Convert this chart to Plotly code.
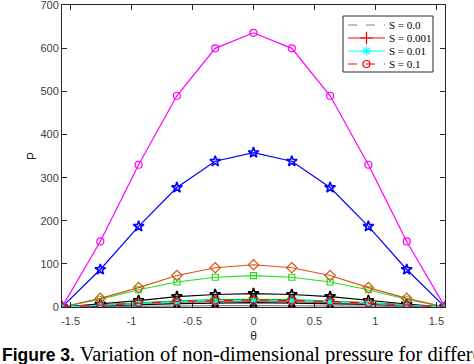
import numpy as np
import plotly.graph_objects as go

theta = [-1.5708, -1.2566, -0.9425, -0.6283, -0.3142, 0.0, 0.3142, 0.6283, 0.9425, 1.2566, 1.5708]

p_magenta = [0, 152, 330, 490, 600, 636, 600, 490, 330, 152, 0]
p_blue = [0, 87, 187, 277, 338, 358, 338, 277, 187, 87, 0]
p_orange = [0, 20, 45, 73, 91, 98, 91, 73, 45, 20, 0]
p_green = [0, 18, 40, 58, 69, 73, 69, 58, 40, 18, 0]
p_black_hi = [0, 7, 15, 24, 29, 31, 29, 24, 15, 7, 0]
p_green_star = [0, 5, 10, 14, 17, 18, 17, 14, 10, 5, 0]
p_s00 = [0, 4, 9, 12, 14, 15, 14, 12, 9, 4, 0]
p_s0001 = [0, 4, 8, 11, 13, 14, 13, 11, 8, 4, 0]
p_s001 = [0, 4, 9, 12, 15, 15, 15, 12, 9, 4, 0]
p_s01 = [0, 4, 9, 13, 15, 16, 15, 13, 9, 4, 0]
p_black_lo = [0, 3, 6, 8, 9, 10, 9, 8, 6, 3, 0]
p_gray = [0, 1, 2, 3, 3, 3, 3, 3, 2, 1, 0]

legend_names = ["S = 0.0", "S = 0.001", "S = 0.01", "S = 0.1"]

xticks = [-1.5, -1, -0.5, 0, 0.5, 1, 1.5]
xticklabels = ["-1.5", "-1", "-0.5", "0", "0.5", "1", "1.5"]
yticks = [0, 100, 200, 300, 400, 500, 600, 700]

W, H = 474, 364
ML, MR, MT, MB = 62, 29, 5, 57
PW, PH = W - ML - MR, H - MT - MB

def px2paper(px, py):
    return (px - ML) / PW, (H - MB - py) / PH

fig = go.Figure()

def add(y, color, symbol=None, dash="solid", msize=8, mlw=1.2, lw=1.2):
    mode = "lines+markers" if symbol else "lines"
    fig.add_trace(go.Scatter(
        x=theta, y=y, mode=mode, showlegend=False,
        line=dict(color=color, width=lw, dash=dash),
        marker=dict(symbol=symbol, size=msize, color=color, line=dict(color=color, width=mlw)) if symbol else None,
    ))

add(p_gray, "#808080")
add(p_black_lo, "#000000", "star-open", msize=8, mlw=1.6)
add(p_green_star, "#00cc00", "star-open", msize=7, mlw=1.4)
add(p_black_hi, "#000000", "star-open", msize=8, mlw=1.6)
add(p_green, "#22dd22", "square-open", msize=6)
add(p_orange, "#D95319", "diamond-open", msize=8)
add(p_blue, "#0000FF", "star-open", msize=8, mlw=1.6)
add(p_magenta, "#FF00FF", "circle-open", msize=7)

leg_styles = [
    dict(color="#4a8fd0", dash="dash", symbol=None, msize=0),
    dict(color="#FF0000", dash="solid", symbol="cross-thin-open", msize=9),
    dict(color="#00FFFF", dash="solid", symbol="asterisk-open", msize=8),
    dict(color="#FF0000", dash="dash", symbol="circle-open", msize=7),
]
leg_series = [p_s00, p_s0001, p_s001, p_s01]
for ys, st in zip(leg_series, leg_styles):
    add(ys, st["color"], st["symbol"], dash=st["dash"], msize=st["msize"] or 6)

# manual compact legend (MATLAB style box)
bx0, by0 = px2paper(343, 16)
bx1, by1 = px2paper(433, 72)
fig.add_shape(type="rect", xref="paper", yref="paper", x0=bx0, y0=by1, x1=bx1, y1=by0,
              line=dict(color="#262626", width=1), fillcolor="white", layer="below")
row_py = [25, 38, 51, 64]
for name, st, py in zip(legend_names, leg_styles, row_py):
    lx0, ly = px2paper(348, py)
    lx1, _ = px2paper(385, py)
    mx, _ = px2paper(366.5, py)
    tx, _ = px2paper(387, py)
    fig.add_shape(type="line", xref="paper", yref="paper", x0=lx0, y0=ly, x1=lx1, y1=ly,
                  line=dict(color=st["color"], width=1.2, dash=st["dash"]), layer="above")
    if st["symbol"]:
        fig.add_trace(go.Scatter(x=[mx], y=[ly], xaxis="x2", yaxis="y2", mode="markers",
                                 showlegend=False, hoverinfo="skip",
                                 marker=dict(symbol=st["symbol"], size=st["msize"], color=st["color"],
                                             line=dict(color=st["color"], width=1.2))))
    fig.add_annotation(xref="paper", yref="paper", x=tx, y=ly, xanchor="left", yanchor="middle",
                       showarrow=False, text=name,
                       font=dict(family="Liberation Serif, Times New Roman", size=11, color="#000000"))

axis_common = dict(
    showgrid=False, zeroline=False, showline=True, linecolor="#262626", linewidth=1,
    mirror="ticks", ticks="inside", ticklen=5, tickcolor="#262626",
    tickfont=dict(family="Liberation Sans, Arial", size=11, color="#404040"),
    automargin=False,
)

fig.update_layout(
    width=W, height=H,
    margin=dict(l=ML, r=MR, t=MT, b=MB),
    plot_bgcolor="white", paper_bgcolor="white",
    showlegend=False,
    xaxis=dict(range=[-1.5708, 1.5708], tickvals=xticks, ticktext=xticklabels, ticklabelstandoff=4,
               title=dict(text="θ", font=dict(family="Liberation Sans, Arial", size=12, color="#262626"), standoff=5),
               **axis_common),
    yaxis=dict(range=[0, 700.5], tickvals=yticks, ticklabeloverflow="allow",
               title=dict(text="P", font=dict(family="Liberation Sans, Arial", size=12, color="#262626"), standoff=1),
               **axis_common),
    xaxis2=dict(range=[0, 1], overlaying="x", visible=False, fixedrange=True),
    yaxis2=dict(range=[0, 1], overlaying="y", visible=False, fixedrange=True),
)

fig.add_annotation(
    xref="paper", yref="paper", x=-ML / PW, y=-0.112, xanchor="left", yanchor="top",
    showarrow=False, align="left",
    text='<span style="font-family:Liberation Sans, Arial;font-size:17.5px"><b>Figure 3.</b></span> Variation of non-dimensional pressure for different',
    font=dict(family="Liberation Serif, Times New Roman", size=20.5, color="#000000"),
)

fig.write_html("out.html", post_script="document.body.style.margin='0';",
               config={"displayModeBar": False})
